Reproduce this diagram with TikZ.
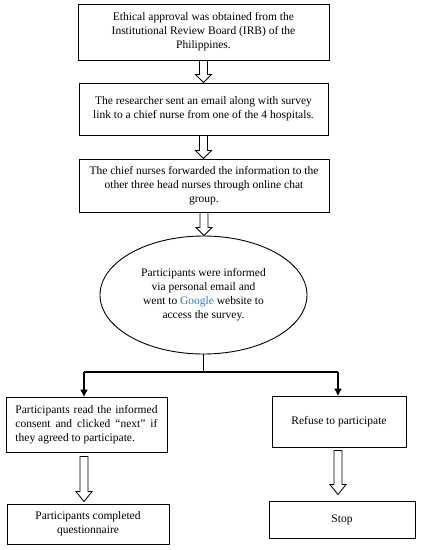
\documentclass[tikz,border=0pt]{standalone}
\usepackage{fontspec}
\setmainfont{Liberation Serif}
\usetikzlibrary{calc,arrows.meta,shapes.geometric}
\definecolor{googleblue}{RGB}{45,120,200}
\tikzset{
  box/.style={draw, line width=0.9pt, inner sep=0pt, align=center, font=\fontsize{11.5}{14}\selectfont},
  hollow/.style={draw, line width=0.8pt, fill=white, line join=miter},
  branch/.style={line width=1.3pt},
  thinarrow/.style={line width=1.1pt, -{Triangle[length=7pt,width=7pt]}},
}
\newcommand\harrow[3]{% #1 start, #2 tip, #3 head length
  \path (#1) coordinate (ha) (#2) coordinate (hb);
  \draw[hollow] let \p1=(ha), \p2=(hb) in
    (\x1-4pt,\y1) -- (\x1-4pt,\y2+#3) -- (\x1-8pt,\y2+#3) -- (\x1,\y2)
    -- (\x1+8pt,\y2+#3) -- (\x1+4pt,\y2+#3) -- (\x1+4pt,\y1) -- cycle;}
\begin{document}
\begin{tikzpicture}[x=1pt,y=-1pt]
\useasboundingbox (0,0) rectangle (421,550);
\node[box, minimum width=251pt, minimum height=56pt] (b1) at (203.5,32)
  {Ethical approval was obtained from the\\Institutional Review Board (IRB) of the\\Philippines.};
\node[box, minimum width=249pt, minimum height=52pt] (b2) at (203.5,109)
  {The researcher sent an email along with survey\\link to a chief nurse from one of the 4 hospitals.};
\node[box, minimum width=250pt, minimum height=53pt] (b3) at (204,185.5)
  {The chief nurses forwarded the information to the\\other three head nurses through online chat\\group.};
\node[box, ellipse, minimum width=207pt, minimum height=118pt] (el) at (203.5,295)
  {Participants were informed\\via personal email and\\went to \textcolor{googleblue}{Google} website to\\access the survey.};
\node[box, minimum width=161pt, minimum height=55pt, text width=142pt, align=justify] (b4) at (86.5,424.5)
  {Participants read the informed consent and clicked “next” if they agreed to participate.};
\node[box, minimum width=134pt, minimum height=51pt] (r1) at (339,421.5)
  {Refuse to participate};
\node[box, minimum width=162pt, minimum height=40pt] (b5) at (88,524)
  {Participants completed\\questionnaire};
\node[box, minimum width=146pt, minimum height=37pt] (st) at (342,519.5)
  {Stop};
\coordinate (L) at (84,372);
\coordinate (R) at (338,372);
\harrow{b1.south}{b2.north}{8pt}
\harrow{b2.south}{b3.north}{8pt}
\harrow{b3.south}{el.north}{8pt}
\draw[branch] (el.south) -- (el.south |- L);
\draw[branch] (L) -- (R);
\draw[thinarrow] (L) -- (L |- b4.north);
\draw[thinarrow] (R) -- (R |- r1.north);
\harrow{$(L |- b4.south)+(0,4)$}{$(L |- b5.north)+(0,-2)$}{10pt}
\harrow{$(R |- r1.south)+(0,3)$}{$(R |- st.north)+(0,-6)$}{10pt}
\end{tikzpicture}
\end{document}
